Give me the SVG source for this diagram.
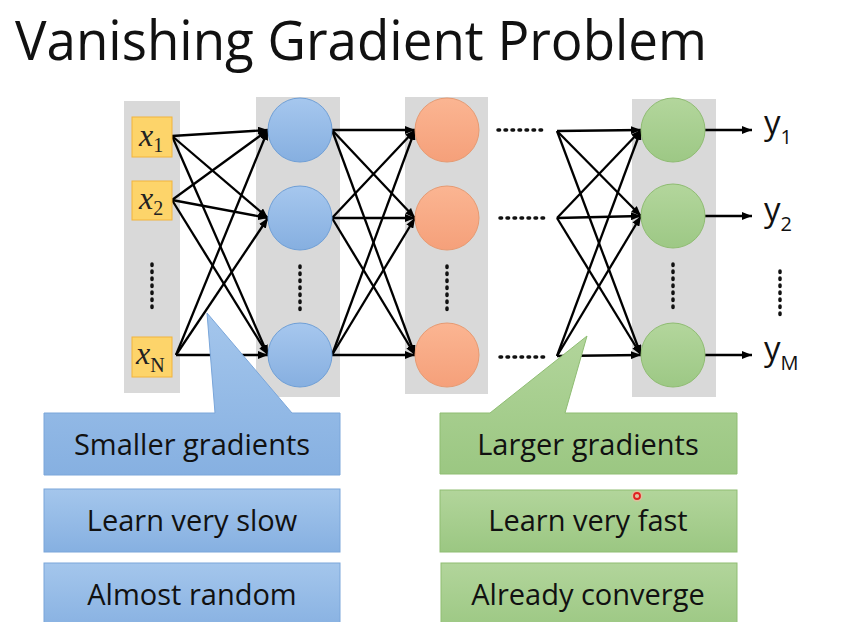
<svg xmlns="http://www.w3.org/2000/svg" width="842" height="622" viewBox="0 0 842 622">
<defs>
<style>
.col{fill:#d9d9d9}
.inbox{fill:#fdd46a;stroke:#f2b43c;stroke-width:1}
.blue{fill:url(#gb);stroke:#6f9fd6;stroke-width:1}
.org{fill:url(#go);stroke:#e69a72;stroke-width:1}
.grn{fill:url(#gg);stroke:#8fbc72;stroke-width:1}
.bbox{fill:url(#gbb);stroke:#7aa6da;stroke-width:1}
.gbox{fill:url(#ggb);stroke:#8fbd73;stroke-width:1}
.edge{stroke:#000;stroke-width:2.3;fill:none;marker-end:url(#ah)}
.lbl{font-family:"Open Sans","Liberation Sans",sans-serif;font-size:29px;fill:#111;text-anchor:middle}
.xv{font-family:"Liberation Serif",serif;font-style:italic;font-size:32px;fill:#222}
.xs{font-family:"Liberation Serif",serif;font-size:20px;fill:#222}
.yv{font-family:"Open Sans","Liberation Sans",sans-serif;font-size:33px;fill:#111}
.ys{font-family:"Open Sans","Liberation Sans",sans-serif;font-size:20px;fill:#111}
.dots{stroke:#111;stroke-width:3.5;stroke-dasharray:1.6 5.4;stroke-linecap:round;fill:none}
</style>
<linearGradient id="gb" x1="0" y1="0" x2="0" y2="1"><stop offset="0" stop-color="#a6c7ee"/><stop offset="1" stop-color="#86afe0"/></linearGradient>
<linearGradient id="go" x1="0" y1="0" x2="0" y2="1"><stop offset="0" stop-color="#fbb592"/><stop offset="1" stop-color="#f5a07a"/></linearGradient>
<linearGradient id="gg" x1="0" y1="0" x2="0" y2="1"><stop offset="0" stop-color="#b3d69c"/><stop offset="1" stop-color="#9dc885"/></linearGradient>
<linearGradient id="gbb" x1="0" y1="0" x2="0" y2="1"><stop offset="0" stop-color="#a4c6ec"/><stop offset="1" stop-color="#86b0e1"/></linearGradient>
<linearGradient id="ggb" x1="0" y1="0" x2="0" y2="1"><stop offset="0" stop-color="#b2d59b"/><stop offset="1" stop-color="#9bc782"/></linearGradient>
<marker id="ah" viewBox="0 0 10 8" refX="10" refY="4" markerWidth="10" markerHeight="8" markerUnits="userSpaceOnUse" orient="auto"><path d="M0,0 L10,4 L0,8 z" fill="#000"/></marker>
</defs>
<rect width="842" height="622" fill="#fff"/>
<text id="title" x="15" y="60" font-family="Open Sans,Liberation Sans,sans-serif" font-size="54" fill="#111" textLength="692" lengthAdjust="spacingAndGlyphs">Vanishing Gradient Problem</text>

<g id="columns">
<rect class="col" x="124" y="101" width="56" height="292"/>
<rect class="col" x="256" y="97" width="84" height="300"/>
<rect class="col" x="405" y="97" width="83" height="297"/>
<rect class="col" x="632" y="99" width="84" height="298"/>
</g>

<g id="connectors">
<line class="edge" x1="172" y1="136" x2="268" y2="130"/>
<line class="edge" x1="172" y1="136" x2="268" y2="218"/>
<line class="edge" x1="172" y1="136" x2="268" y2="355"/>
<line class="edge" x1="172" y1="200" x2="268" y2="130"/>
<line class="edge" x1="172" y1="200" x2="268" y2="218"/>
<line class="edge" x1="172" y1="200" x2="268" y2="355"/>
<line class="edge" x1="176" y1="355" x2="268" y2="130"/>
<line class="edge" x1="176" y1="355" x2="268" y2="218"/>
<line class="edge" x1="176" y1="355" x2="268" y2="355"/>
<line class="edge" x1="332" y1="130" x2="415" y2="130"/>
<line class="edge" x1="332" y1="130" x2="415" y2="218"/>
<line class="edge" x1="332" y1="130" x2="415" y2="355"/>
<line class="edge" x1="332" y1="218" x2="415" y2="130"/>
<line class="edge" x1="332" y1="218" x2="415" y2="218"/>
<line class="edge" x1="332" y1="218" x2="415" y2="355"/>
<line class="edge" x1="332" y1="355" x2="415" y2="130"/>
<line class="edge" x1="332" y1="355" x2="415" y2="218"/>
<line class="edge" x1="332" y1="355" x2="415" y2="355"/>
<line class="edge" x1="557" y1="131" x2="641" y2="130"/>
<line class="edge" x1="557" y1="131" x2="641" y2="216"/>
<line class="edge" x1="557" y1="131" x2="641" y2="355"/>
<line class="edge" x1="557" y1="218" x2="641" y2="130"/>
<line class="edge" x1="557" y1="218" x2="641" y2="216"/>
<line class="edge" x1="557" y1="218" x2="641" y2="355"/>
<line class="edge" x1="557" y1="356" x2="641" y2="130"/>
<line class="edge" x1="557" y1="356" x2="641" y2="216"/>
<line class="edge" x1="557" y1="356" x2="641" y2="355"/>
<line class="edge" x1="705" y1="130" x2="752" y2="130"/>
<line class="edge" x1="705" y1="216" x2="752" y2="216"/>
<line class="edge" x1="705" y1="355" x2="752" y2="355"/>
</g>

<g id="input-x1"><rect class="inbox" x="132" y="117" width="40" height="40"/><text x="139" y="146"><tspan class="xv">x</tspan><tspan class="xs" dy="6">1</tspan></text></g>
<g id="input-x2"><rect class="inbox" x="132" y="181" width="40" height="39"/><text x="139" y="209"><tspan class="xv">x</tspan><tspan class="xs" dy="6">2</tspan></text></g>
<g id="input-xN"><rect class="inbox" x="132" y="337" width="40" height="40"/><text x="136" y="364"><tspan class="xv">x</tspan><tspan class="xs" dy="8">N</tspan></text></g>

<g id="h1a"><circle class="blue" cx="300" cy="130" r="32"/></g>
<g id="h1b"><circle class="blue" cx="300" cy="218" r="32"/></g>
<g id="h1c"><circle class="blue" cx="300" cy="355" r="32"/></g>
<g id="h2a"><circle class="org" cx="447" cy="130" r="32"/></g>
<g id="h2b"><circle class="org" cx="447" cy="218" r="32"/></g>
<g id="h2c"><circle class="org" cx="447" cy="355" r="32"/></g>
<g id="outa"><circle class="grn" cx="673" cy="130" r="32"/></g>
<g id="outb"><circle class="grn" cx="673" cy="216" r="32"/></g>
<g id="outc"><circle class="grn" cx="673" cy="355" r="32"/></g>

<g id="ellipses">
<line class="dots" x1="152" y1="264" x2="152" y2="312"/>
<line class="dots" x1="300" y1="266" x2="300" y2="312"/>
<line class="dots" x1="447" y1="266" x2="447" y2="312"/>
<line class="dots" x1="673" y1="264" x2="673" y2="310"/>
<line class="dots" x1="780" y1="271" x2="780" y2="317"/>
<line class="dots" x1="498" y1="130" x2="542" y2="130"/>
<line class="dots" x1="500" y1="218" x2="544" y2="218"/>
<line class="dots" x1="500" y1="357" x2="544" y2="357"/>
</g>

<g id="outputs">
<text x="764" y="134"><tspan class="yv">y</tspan><tspan class="ys" dy="10">1</tspan></text>
<text x="764" y="221"><tspan class="yv">y</tspan><tspan class="ys" dy="10">2</tspan></text>
<text x="764" y="360"><tspan class="yv">y</tspan><tspan class="ys" dy="10">M</tspan></text>
</g>

<g id="callout-smaller">
<path class="bbox" d="M44,413 L215,413 L207,313 L292,413 L340,413 L340,475 L44,475 Z"/>
<text class="lbl" x="192" y="455">Smaller gradients</text>
</g>
<g id="box-slow"><rect class="bbox" x="44" y="489" width="296" height="63"/><text class="lbl" x="192" y="531">Learn very slow</text></g>
<g id="box-random"><rect class="bbox" x="44" y="563" width="296" height="70"/><text class="lbl" x="192" y="605">Almost random</text></g>

<g id="callout-larger">
<path class="gbox" d="M440,413 L490,413 L587,336 L565,413 L737,413 L737,474 L440,474 Z"/>
<text class="lbl" x="588" y="455">Larger gradients</text>
</g>
<g id="box-fast"><rect class="gbox" x="440" y="490" width="297" height="62"/><text class="lbl" x="588" y="531">Learn very fast</text></g>
<g id="box-converge"><rect class="gbox" x="441" y="563" width="296" height="70"/><text class="lbl" x="588" y="605">Already converge</text></g>

<g id="pointer"><circle cx="637" cy="496" r="5.5" fill="#ffb0a0" opacity="0.6"/><circle cx="637" cy="496" r="3" fill="none" stroke="#e02020" stroke-width="1.8"/></g>
</svg>
